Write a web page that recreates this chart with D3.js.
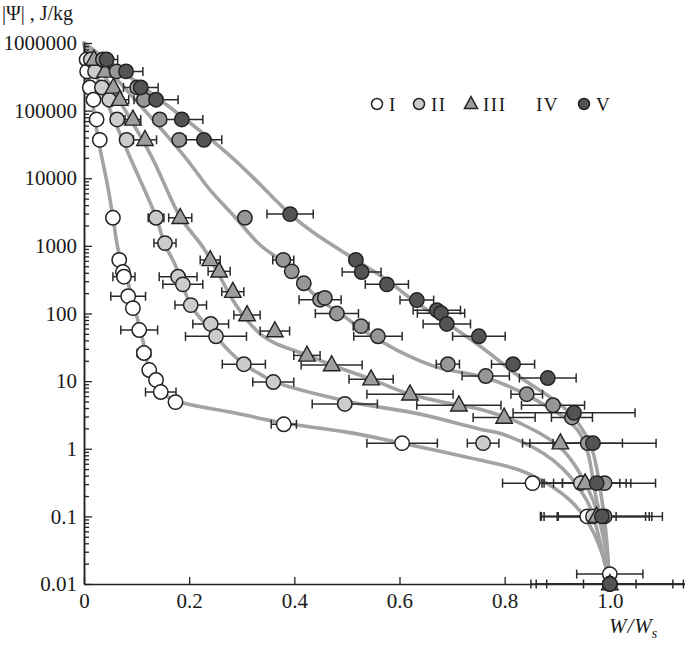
<!DOCTYPE html>
<html>
<head>
<meta charset="utf-8">
<script src="https://cdn.jsdelivr.net/npm/d3@7"></script>
<style>
  body { margin: 0; background: #fff; }
  svg { display: block; font-family: "Liberation Serif", "DejaVu Serif", serif; }
</style>
</head>
<body>
<svg width="685" height="645"></svg>
<script>
// series names (legend order)
const SERIES_NAMES = ["I", "II", "III", "IV", "V"];

// measured points: [W/Ws, |Psi| J/kg, half-width of error bar in W/Ws]
const SERIES_I = [
  [0.005, 570000, 0], [0.006, 380000, 0], [0.011, 220000, 0], [0.018, 145000, 0], [0.024, 74000, 0], [0.030, 37000, 0],
  [0.055, 2600, 0], [0.067, 620, 0], [0.074, 410, 0.01], [0.076, 350, 0.021], [0.084, 180, 0.033], [0.093, 120, 0.011],
  [0.105, 57, 0.035], [0.114, 26, 0.013], [0.124, 14.6, 0.01], [0.137, 10.4, 0.011], [0.146, 6.9, 0.029], [0.174, 4.9, 0.008],
  [0.380, 2.3, 0.024], [0.605, 1.21, 0.067], [0.853, 0.31, 0.057], [0.957, 0.1, 0.055], [1.0, 0.014, 0.063]
];
const SERIES_II = [
  [0.013, 570000, 0], [0.021, 380000, 0], [0.034, 220000, 0], [0.048, 145000, 0], [0.063, 74000, 0.011], [0.081, 37000, 0.011],
  [0.137, 2600, 0.015], [0.154, 1100, 0.021], [0.179, 350, 0.036], [0.188, 270, 0.038], [0.203, 133, 0.03], [0.241, 70, 0.034],
  [0.251, 46, 0.058], [0.304, 17.8, 0.041], [0.360, 9.7, 0.039], [0.496, 4.6, 0.062], [0.759, 1.21, 0.03], [0.945, 0.31, 0.074],
  [0.968, 0.1, 0.1], [1.0, 0.01, 0.14]
];
const SERIES_III = [
  [0.019, 570000, 0], [0.040, 380000, 0], [0.056, 220000, 0], [0.068, 145000, 0.017], [0.093, 74000, 0.015], [0.116, 37000, 0.022],
  [0.183, 2600, 0.022], [0.240, 620, 0.019], [0.257, 420, 0.021], [0.283, 210, 0.021], [0.310, 95, 0.025], [0.363, 55, 0.028],
  [0.424, 24, 0.025], [0.471, 17.3, 0.058], [0.546, 10.7, 0.042], [0.620, 6.4, 0.082], [0.713, 4.4, 0.08], [0.799, 2.9, 0.059],
  [0.906, 1.21, 0.072], [0.953, 0.31, 0.078], [0.975, 0.1, 0.1], [1.0, 0.01, 0.12]
];
const SERIES_IV = [
  [0.036, 570000, 0], [0.062, 380000, 0], [0.101, 220000, 0.01], [0.114, 145000, 0], [0.144, 74000, 0], [0.181, 37000, 0],
  [0.306, 2600, 0], [0.379, 620, 0.02], [0.395, 420, 0], [0.418, 280, 0], [0.449, 160, 0.04], [0.458, 170, 0],
  [0.481, 100, 0.041], [0.527, 65, 0.015], [0.559, 46, 0.046], [0.692, 17.8, 0.022], [0.764, 11.9, 0.045], [0.842, 6.4, 0.03],
  [0.892, 4.4, 0.06], [0.928, 2.9, 0.039], [0.958, 1.21, 0.066], [0.990, 0.31, 0.097], [0.990, 0.1, 0.09], [1.0, 0.01, 0.15]
];
const SERIES_V = [
  [0.043, 570000, 0.021], [0.080, 380000, 0.032], [0.108, 220000, 0.033], [0.137, 145000, 0.042], [0.186, 74000, 0.04], [0.228, 37000, 0.034],
  [0.392, 2950, 0.044], [0.517, 620, 0], [0.528, 410, 0.037], [0.576, 270, 0.041], [0.633, 158, 0.032], [0.671, 112, 0.045],
  [0.679, 101, 0.045], [0.690, 70, 0.045], [0.751, 46, 0.05], [0.816, 17.8, 0.041], [0.882, 11.1, 0.054], [0.932, 3.4, 0.116],
  [0.968, 1.21, 0.12], [0.975, 0.31, 0.065], [0.985, 0.1, 0.115], [1.0, 0.01, 0.05]
];

// fitted retention curves: [W/Ws, |Psi|]
const CURVE_I = [
  [0, 1e6], [0.013, 200000], [0.024, 52000], [0.031, 26000], [0.044, 8500], [0.055, 2670], [0.065, 870], [0.084, 280],
  [0.101, 88], [0.116, 29], [0.124, 14.6], [0.150, 6.6], [0.183, 4.9], [0.278, 3.5], [0.380, 2.4], [0.5, 1.76],
  [0.605, 1.21], [0.753, 0.68], [0.829, 0.48], [0.892, 0.27], [0.924, 0.174], [0.956, 0.088], [0.981, 0.035], [0.994, 0.016], [1.0, 0.01]
];
const CURVE_II = [
  [0, 1e6], [0.042, 143600], [0.084, 23600], [0.137, 2670], [0.154, 1030], [0.169, 617], [0.183, 345], [0.203, 133],
  [0.251, 46], [0.278, 26.9], [0.304, 17.8], [0.335, 12.7], [0.359, 10], [0.5, 5.06], [0.639, 3.25], [0.753, 1.95],
  [0.797, 1.64], [0.892, 0.68], [0.956, 0.174], [0.981, 0.044], [0.994, 0.016], [1.0, 0.01]
];
const CURVE_III = [
  [0, 1e6], [0.125, 23600], [0.183, 2670], [0.226, 960], [0.259, 345], [0.283, 158], [0.31, 80], [0.338, 47.9],
  [0.363, 36.5], [0.424, 24.3], [0.471, 17.3], [0.546, 10.7], [0.62, 6.4], [0.713, 4.4], [0.753, 3.85], [0.829, 2.39],
  [0.911, 0.95], [0.968, 0.174], [0.989, 0.044], [0.998, 0.016], [1.0, 0.01]
];
const CURVE_IV = [
  [0, 1e6], [0.186, 23600], [0.24, 6690], [0.287, 2670], [0.335, 1030], [0.378, 575], [0.416, 282], [0.449, 158],
  [0.487, 101], [0.53, 56.8], [0.595, 28.8], [0.671, 16.1], [0.766, 11.1], [0.861, 5.2], [0.943, 1.7], [0.975, 0.174],
  [0.992, 0.044], [0.998, 0.016], [1.0, 0.01]
];
const CURVE_V = [
  [0, 1e6], [0.272, 23600], [0.392, 2950], [0.435, 1600], [0.517, 617], [0.576, 312], [0.625, 158], [0.696, 67.3],
  [0.753, 33], [0.829, 11.5], [0.918, 3.72], [0.962, 1.21], [0.985, 0.174], [0.994, 0.044], [0.998, 0.016], [1.0, 0.01]
];

// axis ticks
const X_TICKS = [0, 0.2, 0.4, 0.6, 0.8, 1.0];
const X_TICK_LABELS = ["0", "0.2", "0.4", "0.6", "0.8", "1.0"];
const Y_TICKS = [0.01, 0.1, 1, 10, 100, 1000, 10000, 100000, 1000000];
const Y_TICK_LABELS = ["0.01", "0.1", "1", "10", "100", "1000", "10000", "100000", "1000000"];

const SERIES = [SERIES_I, SERIES_II, SERIES_III, SERIES_IV, SERIES_V];
const CURVES = [CURVE_I, CURVE_II, CURVE_III, CURVE_IV, CURVE_V];

// look of each series
const STYLE = {
  I:   { shape: 'circle',   fill: '#ffffff', legend: true },
  II:  { shape: 'circle',   fill: '#cccccc', legend: true },
  III: { shape: 'triangle', fill: '#9d9d9d', legend: true },
  IV:  { shape: 'circle',   fill: '#979797', legend: false },
  V:   { shape: 'circle',   fill: '#535353', legend: true }
};

const x = d3.scaleLinear().domain([0, 1.143]).range([84, 685]);
const y = d3.scaleLog().domain([0.01, 1e6]).range([584, 43]);

const svg = d3.select('svg');

// curves
const line = d3.line()
  .x(d => x(d[0]))
  .y(d => y(d[1]))
  .curve(d3.curveCatmullRom.alpha(0.5));

svg.append('g')
  .selectAll('path')
  .data(CURVES)
  .enter()
  .append('path')
  .attr('d', line)
  .attr('fill', 'none')
  .attr('stroke', '#a3a3a3')
  .attr('stroke-width', 3.6)
  .attr('stroke-linecap', 'round');

// axes
const minorTicks = [];
for (let e = -2; e < 6; e++) {
  for (let k = 2; k < 10; k++) minorTicks.push(+(k + 'e' + e));
}

function styleAxis(g) {
  g.attr('font-family', null).attr('font-size', null);
  g.select('.domain').attr('stroke', '#222').attr('stroke-width', 1.5);
  g.selectAll('.tick line').attr('stroke', '#222').attr('stroke-width', 1.3);
  g.selectAll('.tick text').attr('fill', '#1a1a1a').attr('font-size', 21);
}

svg.append('g')
  .attr('transform', 'translate(84,0)')
  .call(d3.axisLeft(y).tickValues(minorTicks).tickSizeInner(-5).tickSizeOuter(0).tickFormat(''))
  .call(styleAxis);

svg.append('g')
  .attr('transform', 'translate(84,0)')
  .call(d3.axisLeft(y).tickValues(Y_TICKS).tickSizeInner(-8).tickSizeOuter(0).tickPadding(7)
    .tickFormat((d, i) => Y_TICK_LABELS[i]))
  .call(styleAxis);

svg.append('g')
  .attr('transform', 'translate(0,584)')
  .call(d3.axisBottom(x).tickValues(X_TICKS).tickSizeInner(-7).tickSizeOuter(0).tickPadding(9)
    .tickFormat((d, i) => X_TICK_LABELS[i]))
  .call(styleAxis);

// error bars
const errG = svg.append('g')
  .attr('stroke', '#2a2a2a')
  .attr('stroke-width', 1.5);

SERIES.forEach(points => {
  points.filter(p => p[2] > 0).forEach(p => {
    const x0 = x(p[0] - p[2]);
    const x1 = x(p[0] + p[2]);
    const yy = y(p[1]);
    errG.append('line').attr('x1', x0).attr('x2', x1).attr('y1', yy).attr('y2', yy);
    errG.append('line').attr('x1', x0).attr('x2', x0).attr('y1', yy - 4.5).attr('y2', yy + 4.5);
    errG.append('line').attr('x1', x1).attr('x2', x1).attr('y1', yy - 4.5).attr('y2', yy + 4.5);
  });
});

// markers
function triangle(s) {
  return `M0,${-s * 0.62}L${s * 0.55},${s * 0.38}L${-s * 0.55},${s * 0.38}Z`;
}

function drawMarker(g, name, cx, cy, size) {
  const st = STYLE[name];
  if (st.shape === 'circle') {
    g.append('circle')
      .attr('cx', cx).attr('cy', cy).attr('r', size / 2)
      .attr('fill', st.fill).attr('stroke', '#222').attr('stroke-width', 1.5);
  } else {
    g.append('path')
      .attr('transform', `translate(${cx},${cy})`)
      .attr('d', triangle(size))
      .attr('fill', st.fill).attr('stroke', '#222').attr('stroke-width', 1.4)
      .attr('stroke-linejoin', 'miter');
  }
}

const markG = svg.append('g');
SERIES.forEach((points, i) => {
  const name = SERIES_NAMES[i];
  points.forEach(p => drawMarker(markG, name, x(p[0]), y(p[1]), STYLE[name].shape === 'circle' ? 14.4 : 15));
});

// legend
const legendX = [377, 419, 471, 524, 584];
const legend = svg.append('g');
SERIES_NAMES.forEach((name, i) => {
  if (STYLE[name].legend) drawMarker(legend, name, legendX[i], 104, name === 'III' ? 12 : 11);
  legend.append('text')
    .attr('x', legendX[i] + 12)
    .attr('y', 111)
    .attr('font-size', 19)
    .attr('letter-spacing', 1.5)
    .attr('fill', '#1a1a1a')
    .text(name);
});

// axis titles
svg.append('text')
  .attr('x', 2)
  .attr('y', 20)
  .attr('font-size', 20)
  .attr('fill', '#1a1a1a')
  .text('|Ψ| , J/kg');

const xt = svg.append('text')
  .attr('x', 609)
  .attr('y', 633)
  .attr('font-size', 21)
  .attr('font-style', 'italic')
  .attr('fill', '#1a1a1a');
xt.append('tspan').text('W');
xt.append('tspan').attr('dx', 1).text('/');
xt.append('tspan').attr('dx', 1).text('W');
xt.append('tspan').attr('font-size', 14).attr('dy', 5).text('s');
</script>
</body>
</html>
